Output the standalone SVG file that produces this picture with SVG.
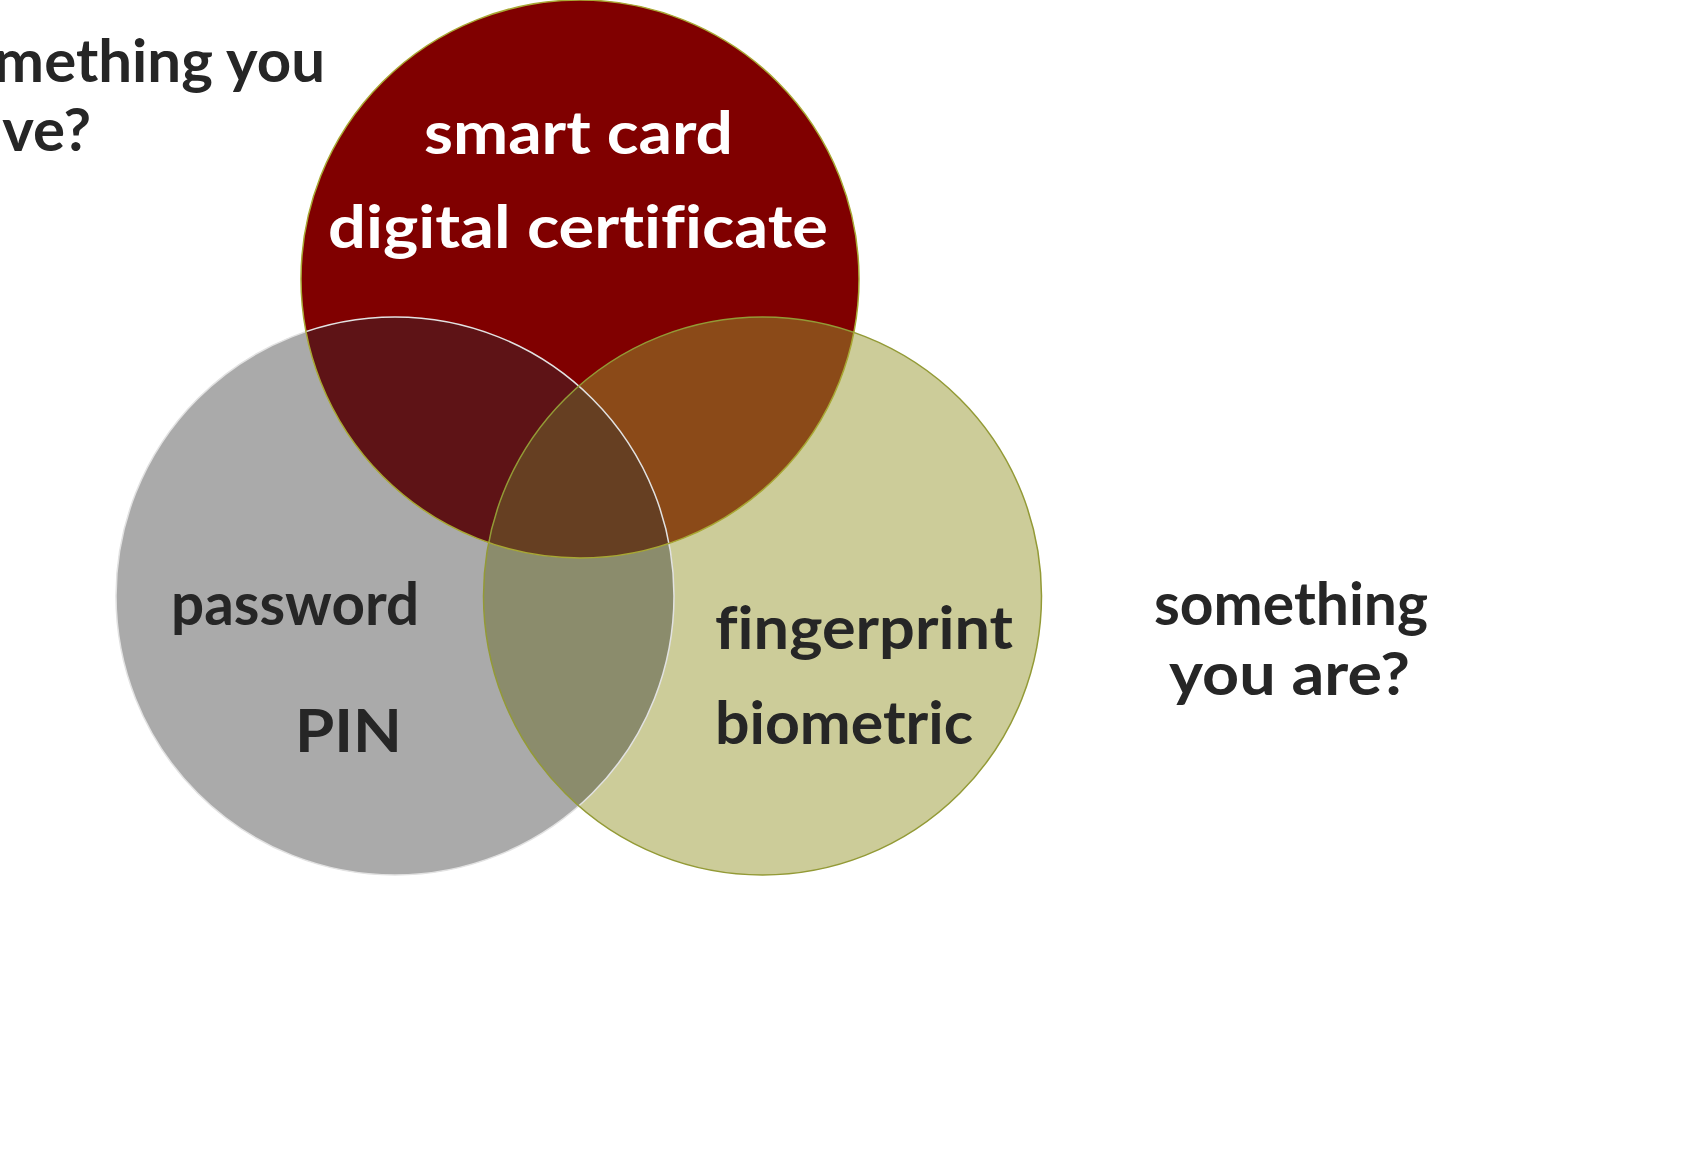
<svg xmlns="http://www.w3.org/2000/svg" width="1696" height="1154" viewBox="0 0 1696 1154">
<style>
.lbl{font-family:Lato,"Open Sans","Noto Sans",sans-serif;font-weight:bold;font-size:60px;fill:#262626;font-variant-ligatures:none}
.wht{fill:#ffffff}
.outline{fill:none;stroke-width:1.5}
</style>
<defs>
<circle id="shapeHave" cx="580" cy="279" r="279"/>
<circle id="shapeKnow" cx="395" cy="596" r="279"/>
<circle id="shapeAre" cx="762.5" cy="596" r="279"/>
<clipPath id="clipHave"><use href="#shapeHave"/></clipPath>
<clipPath id="clipKnow"><use href="#shapeKnow"/></clipPath>
<clipPath id="clipAre"><use href="#shapeAre"/></clipPath>
</defs>
<rect width="1696" height="1154" fill="#ffffff"/>

<g id="node-know">
<use href="#shapeKnow" fill="#aaaaaa"/>
</g>
<g id="node-are">
<use href="#shapeAre" fill="#cccc99"/>
</g>
<g id="node-have">
<use href="#shapeHave" fill="#800000"/>
</g>

<g id="overlaps">
<use href="#shapeKnow" fill="#5e1316" clip-path="url(#clipHave)"/>
<use href="#shapeAre" fill="#8b4a18" clip-path="url(#clipHave)"/>
<use href="#shapeAre" fill="#8b8c6c" clip-path="url(#clipKnow)"/>
<g clip-path="url(#clipHave)"><use href="#shapeAre" fill="#663f22" clip-path="url(#clipKnow)"/></g>
</g>

<g id="outlines">
<use href="#shapeKnow" class="outline" stroke="#e2e2e2"/>
<use href="#shapeAre" class="outline" stroke="#939a36"/>
<use href="#shapeHave" class="outline" stroke="#a8a834"/>
</g>

<g id="connectors"/>

<g id="label-have">
<text class="lbl" x="-67" y="82" textLength="392" lengthAdjust="spacingAndGlyphs">something you</text>
<text class="lbl" x="91" y="151" text-anchor="end">have?</text>
<text class="lbl wht" x="424" y="154" textLength="309" lengthAdjust="spacingAndGlyphs">smart card</text>
<text class="lbl wht" x="328" y="248" textLength="500" lengthAdjust="spacingAndGlyphs">digital certificate</text>
</g>
<g id="label-know">
<text class="lbl" x="171" y="625" textLength="248" lengthAdjust="spacingAndGlyphs">password</text>
<text class="lbl" x="295" y="752" textLength="107" lengthAdjust="spacingAndGlyphs">PIN</text>
</g>
<g id="label-are">
<text class="lbl" x="715" y="649" textLength="298" lengthAdjust="spacingAndGlyphs">fingerprint</text>
<text class="lbl" x="715" y="744" textLength="258" lengthAdjust="spacingAndGlyphs">biometric</text>
<text class="lbl" x="1154" y="625" textLength="274" lengthAdjust="spacingAndGlyphs">something</text>
<text class="lbl" x="1169" y="695" textLength="241" lengthAdjust="spacingAndGlyphs">you are?</text>
</g>
</svg>
